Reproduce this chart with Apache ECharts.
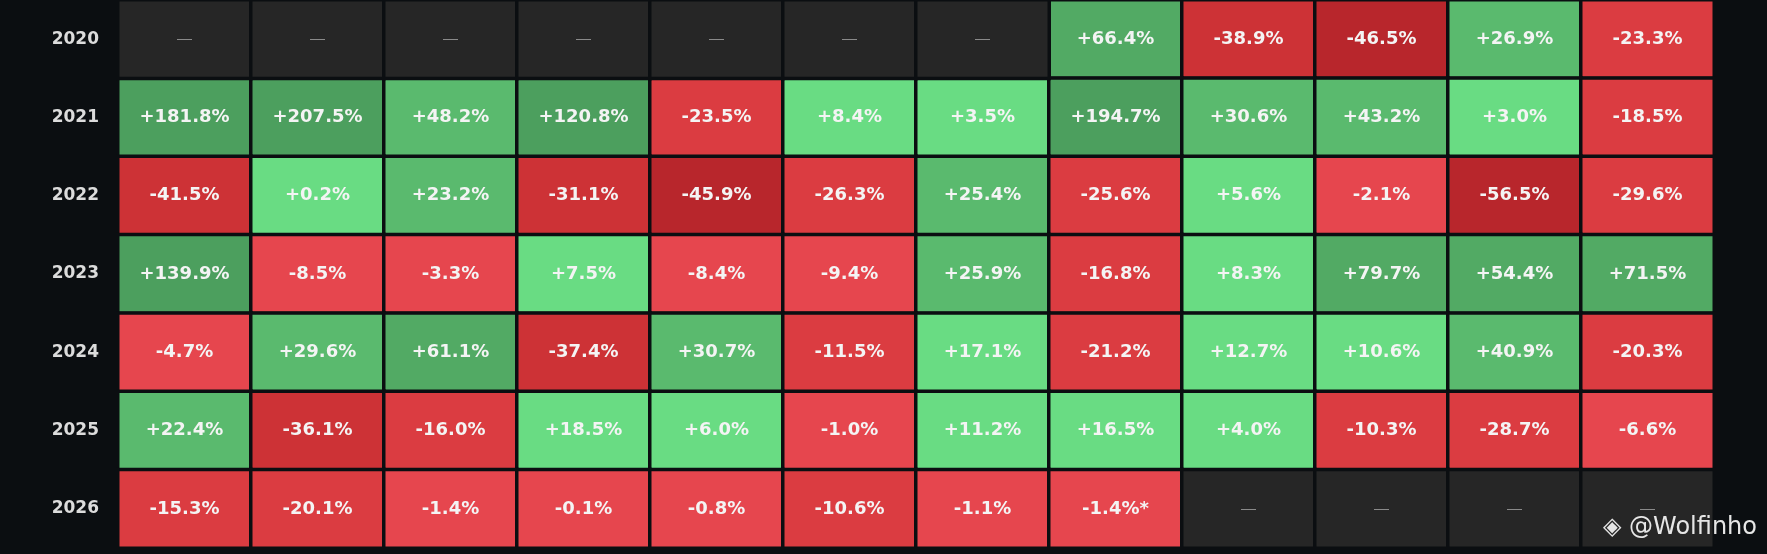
<!DOCTYPE html>
<html><head><meta charset="utf-8">
<script src="https://cdn.jsdelivr.net/npm/echarts@6/dist/echarts.min.js"></script>
<style>html,body{margin:0;background:#0b0e11}#c{width:1767px;height:554px}</style>
</head><body><div id="c"></div>
<script>
const months=['Jan','Feb','Mar','Apr','May','Jun','Jul','Aug','Sep','Oct','Nov','Dec'];
const years=['2020','2021','2022','2023','2024','2025','2026'];
const y2020=[null,null,null,null,null,null,null,66.4,-38.9,-46.5,26.9,-23.3];
const y2021=[181.8,207.5,48.2,120.8,-23.5,8.4,3.5,194.7,30.6,43.2,3.0,-18.5];
const y2022=[-41.5,0.2,23.2,-31.1,-45.9,-26.3,25.4,-25.6,5.6,-2.1,-56.5,-29.6];
const y2023=[139.9,-8.5,-3.3,7.5,-8.4,-9.4,25.9,-16.8,8.3,79.7,54.4,71.5];
const y2024=[-4.7,29.6,61.1,-37.4,30.7,-11.5,17.1,-21.2,12.7,10.6,40.9,-20.3];
const y2025=[22.4,-36.1,-16.0,18.5,6.0,-1.0,11.2,16.5,4.0,-10.3,-28.7,-6.6];
const y2026=[-15.3,-20.1,-1.4,-0.1,-0.8,-10.6,-1.1,-1.4,null,null,null,null];
const rows=[y2020,y2021,y2022,y2023,y2024,y2025,y2026];
const provisional={'2026-7':'*'};
const vals=[],miss=[];
rows.forEach((r,yi)=>r.forEach((v,mi)=>{
  if(v===null) miss.push([mi,yi,0]); else vals.push([mi,yi,v]);
}));
function fmt(p){const v=p.value[2];const s=(v>=0?'+':'')+v.toFixed(1)+'%';return s+(provisional[years[p.value[1]]+'-'+p.value[0]]||'');}
const chart=echarts.init(document.getElementById('c'));
chart.setOption({
  backgroundColor:'#0b0e11',animation:false,
  grid:{left:118,right:53,top:0,bottom:6},
  xAxis:{type:'category',data:months,show:false},
  yAxis:{type:'category',data:years,inverse:true,axisLine:{show:false},axisTick:{show:false},
    axisLabel:{color:'#dcdcdc',fontWeight:'bold',fontSize:17,fontFamily:'DejaVu Sans',margin:19}},
  visualMap:{type:'piecewise',show:false,seriesIndex:0,dimension:2,pieces:[
    {min:100,color:'#4c9f5e'},{min:50,max:100,color:'#52aa64'},{min:20,max:50,color:'#5aba6e'},{min:0,max:20,color:'#69dc83'},
    {min:-10,max:0,color:'#e6464e'},{min:-30,max:-10,color:'#db3c41'},{min:-45,max:-30,color:'#cd3236'},{max:-45,color:'#b8262c'}]},
  series:[
    {type:'heatmap',data:vals,itemStyle:{borderColor:'#0b0e11',borderWidth:3.5},
     label:{show:true,formatter:fmt,color:'#f4f4f4',fontWeight:'bold',fontSize:18,fontFamily:'DejaVu Sans'}},
    {type:'heatmap',data:miss,itemStyle:{color:'#262626',borderColor:'#0b0e11',borderWidth:3.5},
     label:{show:true,formatter:'—',color:'#8a8a8a',fontSize:15}}
  ],
  graphic:[{type:'text',right:10,bottom:14,z:100,zlevel:1,style:{text:'◈ @Wolfinho',fill:'#e6e6e6',font:'24px DejaVu Sans'}}]
});
</script></body></html>
